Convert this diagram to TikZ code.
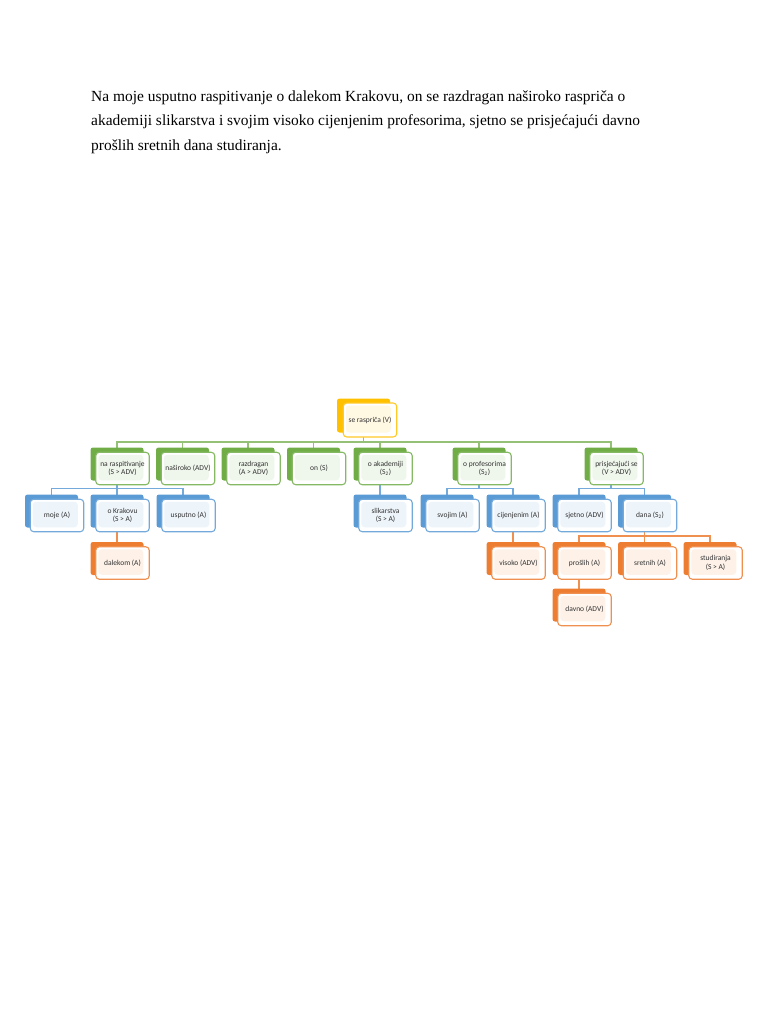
\documentclass[tikz,border=0pt]{standalone}
\usepackage{fontspec}
\setmainfont{Liberation Serif}
\newfontfamily\boxfont{Carlito}
\usetikzlibrary{backgrounds,calc}
\definecolor{cgreen}{HTML}{70AD47}
\definecolor{cblue}{HTML}{5B9BD5}
\definecolor{corange}{HTML}{ED7D31}
\definecolor{cgold}{HTML}{FFC000}
\definecolor{ctext}{HTML}{333333}
\tikzset{
  backbox/.style={rectangle, rounded corners=2.5pt, fill=#1, minimum width=53pt, minimum height=33pt, inner sep=0pt},
  frontbox/.style={rectangle, rounded corners=3.5pt, draw=#1!85!white, line width=1.1pt, fill=white,
    minimum width=53.5pt, minimum height=32.5pt, inner sep=1pt, align=center,
    font=\boxfont\fontsize{7.5}{8.6}\selectfont, text=ctext,
    path picture={\fill[#1!11] ([shift={(2.5pt,-2.5pt)}]path picture bounding box.north west) rectangle ([shift={(-6pt,4.5pt)}]path picture bounding box.south east);}},
  gline/.style={draw=cgreen!75!white, line width=1.1pt},
  bline/.style={draw=cblue!85!white, line width=1.1pt},
  oline/.style={draw=corange!85!white, line width=1.1pt},
  para/.style={anchor=base west, inner sep=0pt, font=\fontsize{15.45}{17}\selectfont}
}
\newcommand{\mknode}[5]{% name, color, keyx, fronttop y, text
  \node[backbox=#2] (b#1) at (#3, #4+12) {};
  \node[frontbox=#2] (#1) at (#3+5.5, #4+16.5) {#5};
}
\begin{document}
\begin{tikzpicture}[x=1pt,y=-1pt]
\useasboundingbox (0,0) rectangle (768,1024);
\node[para] (l1) at (91,101.5) {Na moje usputno raspitivanje o dalekom Krakovu, on se razdragan naširoko raspriča o};
\node[para] (l2) at (91,126) {akademiji slikarstva i svojim visoko cijenjenim profesorima, sjetno se prisjećajući davno};
\node[para] (l3) at (91,151) {prošlih sretnih dana studiranja.};

% top
\node[backbox=cgold, minimum height=34pt] (btop) at (363.5,415.5) {};
\node[frontbox=cgold, minimum height=34pt] (top) at (370,420) {se raspriča (V)};
% level 1
\mknode{nr}{cgreen}{117}{452}{na raspitivanje\\(S > ADV)}
\mknode{ns}{cgreen}{182.5}{452}{naširoko (ADV)}
\mknode{rz}{cgreen}{248}{452}{razdragan\\(A > ADV)}
\mknode{on}{cgreen}{313.5}{452}{on (S)}
\mknode{oa}{cgreen}{380}{452}{o akademiji\\(S\textsubscript{2})}
\mknode{op}{cgreen}{479}{452}{o profesorima\\(S\textsubscript{2})}
\mknode{pr}{cgreen}{611}{452}{prisjećajući se\\(V > ADV)}
% level 2
\mknode{mo}{cblue}{51.5}{499}{moje (A)}
\mknode{ok}{cblue}{117}{499}{o Krakovu\\(S > A)}
\mknode{us}{cblue}{183}{499}{usputno (A)}
\mknode{sl}{cblue}{380}{499}{slikarstva\\(S > A)}
\mknode{sv}{cblue}{447}{499}{svojim (A)}
\mknode{ci}{cblue}{513}{499}{cijenjenim (A)}
\mknode{sj}{cblue}{579}{499}{sjetno (ADV)}
\mknode{da}{cblue}{644.5}{499}{dana (S\textsubscript{2})}
% level 3
\mknode{dl}{corange}{117}{546.5}{dalekom (A)}
\mknode{vi}{corange}{513}{546.5}{visoko (ADV)}
\mknode{ps}{corange}{579}{546.5}{prošlih (A)}
\mknode{sr}{corange}{644.5}{546.5}{sretnih (A)}
\mknode{st}{corange}{710}{546.5}{studiranja\\(S > A)}
% level 4
\mknode{dv}{corange}{579}{593}{davno (ADV)}

\coordinate (g1) at (0,442);
\coordinate (g2) at (0,488.5);
\coordinate (g3) at (0,536);
\begin{pgfonlayer}{background}
  \foreach \c in {nr,ns,rz,on,oa,op,pr}
    \draw[gline] (btop.center) -- (btop |- g1) -| (b\c.center);
  \foreach \c in {mo,ok,us}
    \draw[bline] (bnr.center) -- (bnr |- g2) -| (b\c.center);
  \draw[bline] (boa.center) -- (bsl.center);
  \foreach \c in {sv,ci}
    \draw[bline] (bop.center) -- (bop |- g2) -| (b\c.center);
  \foreach \c in {sj,da}
    \draw[bline] (bpr.center) -- (bpr |- g2) -| (b\c.center);
  \draw[oline] (bok.center) -- (bdl.center);
  \draw[oline] (bci.center) -- (bvi.center);
  \foreach \c in {ps,sr,st}
    \draw[oline] (bda.center) -- (bda |- g3) -| (b\c.center);
  \draw[oline] (bps.center) -- (bdv.center);
\end{pgfonlayer}
\end{tikzpicture}
\end{document}
